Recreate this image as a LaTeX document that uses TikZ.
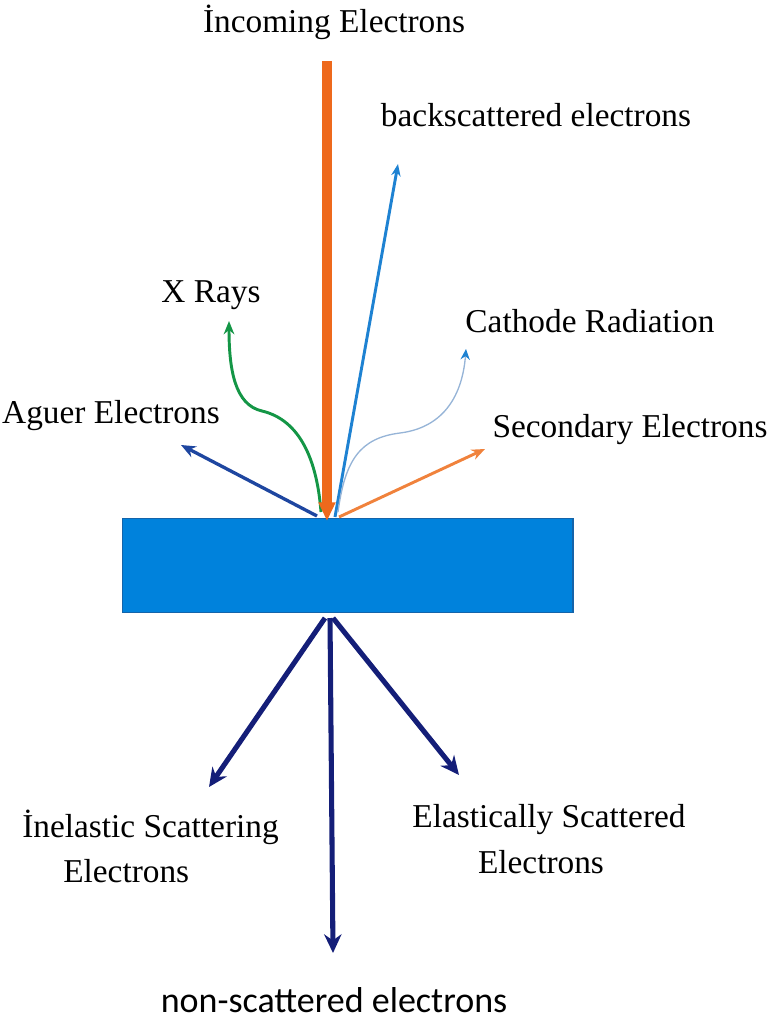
\documentclass[tikz,border=0pt]{standalone}
\usepackage{fontspec}
\setmainfont{Liberation Serif}
\newfontfamily\calib{Carlito}
\usetikzlibrary{arrows.meta}
\definecolor{orangeA}{RGB}{238,105,28}
\definecolor{orangeB}{RGB}{240,130,60}
\definecolor{blueA}{RGB}{30,130,210}
\definecolor{blueL}{RGB}{150,180,215}
\definecolor{greenA}{RGB}{20,150,70}
\definecolor{augerC}{RGB}{30,70,160}
\definecolor{navyA}{RGB}{20,30,120}
\definecolor{plateF}{RGB}{0,130,220}
\definecolor{plateD}{RGB}{20,100,170}
\tikzset{
  lbl/.style={anchor=base, inner sep=0pt, font=\fontsize{25}{30}\selectfont},
  lblw/.style={anchor=base west, inner sep=0pt, font=\fontsize{25}{30}\selectfont},
  sanslbl/.style={anchor=base, inner sep=0pt, font=\calib\fontsize{27}{32}\selectfont},
  platebox/.style={draw=plateD, fill=plateF, line width=1pt, minimum width=338pt, minimum height=70.5pt, inner sep=0pt},
  downarrow/.style={draw=navyA, line width=3.8pt, -{Stealth[length=14pt,width=13pt]}},
}
\begin{document}
\begin{tikzpicture}[x=0.75pt,y=-0.75pt]
\useasboundingbox (0,0) rectangle (768,1024);

% labels
\node[lbl] (inc) at (334,33) {İncoming Electrons};
\node[lbl] (bse) at (536,127) {backscattered electrons};
\node[lbl] (xr) at (211,302) {X Rays};
\node[lbl] (cat) at (590,332) {Cathode Radiation};
\node[lbl] (aug) at (111,423) {Aguer Electrons};
\node[lbl] (sec) at (630,437) {Secondary Electrons};
\node[lblw] (ine1) at (22,837) {İnelastic Scattering};
\node[lblw] (ine2) at (63,882) {Electrons};
\node[lbl] (ela1) at (549,827) {Elastically Scattered};
\node[lbl] (ela2) at (541,873) {Electrons};
\node[sanslbl] (non) at (334,1012) {non-scattered electrons};

% plate
\node[platebox] (plate) at (347.5,565.5) {};

% points
\coordinate (beamtop) at (327,61);
\coordinate (hit) at (327,521);
\coordinate (hitL) at (317,516);
\coordinate (hitG) at (321,512);
\coordinate (hitB) at (335,517);
\coordinate (hitC) at (338,512);
\coordinate (hitS) at (339,517);
\coordinate (tipB) at (398,164);
\coordinate (tipG) at (229,321);
\coordinate (tipC) at (466,349);
\coordinate (tipA) at (181,445);
\coordinate (tipS) at (485,449);
\coordinate (exitL) at (325,618);
\coordinate (exitM) at (330,618);
\coordinate (exitR) at (333,618);
\coordinate (tipDL) at (209,787);
\coordinate (tipDM) at (333,953);
\coordinate (tipDR) at (459,775);

% emitted above
\draw[blueA, line width=2.2pt, -{Stealth[length=9pt,width=7pt]}] (hitB) -- (tipB);
\draw[greenA, line width=2.2pt, -{Stealth[length=10pt,width=8pt]}]
  (hitG) .. controls (317,460) and (300,420) .. (262,411)
         .. controls (235,405) and (229,370) .. (tipG);
\draw[blueL, line width=1pt, -{Stealth[length=8pt,width=7pt,color=blueA]}]
  (hitC) .. controls (345,460) and (360,438) .. (400,433)
         .. controls (440,428) and (462,400) .. (tipC);
\draw[augerC, line width=2.5pt, -{Stealth[length=11pt,width=9pt]}] (hitL) -- (tipA);
\draw[orangeB, line width=2.2pt, -{Stealth[length=10pt,width=8pt]}] (hitS) -- (tipS);

% incoming beam
\draw[orangeA, line width=7.5pt, -{Triangle[length=14pt,width=12pt]}] (beamtop) -- (hit);

% transmitted
\draw[downarrow] (exitL) -- (tipDL);
\draw[downarrow] (exitM) -- (tipDM);
\draw[downarrow] (exitR) -- (tipDR);
\end{tikzpicture}
\end{document}
